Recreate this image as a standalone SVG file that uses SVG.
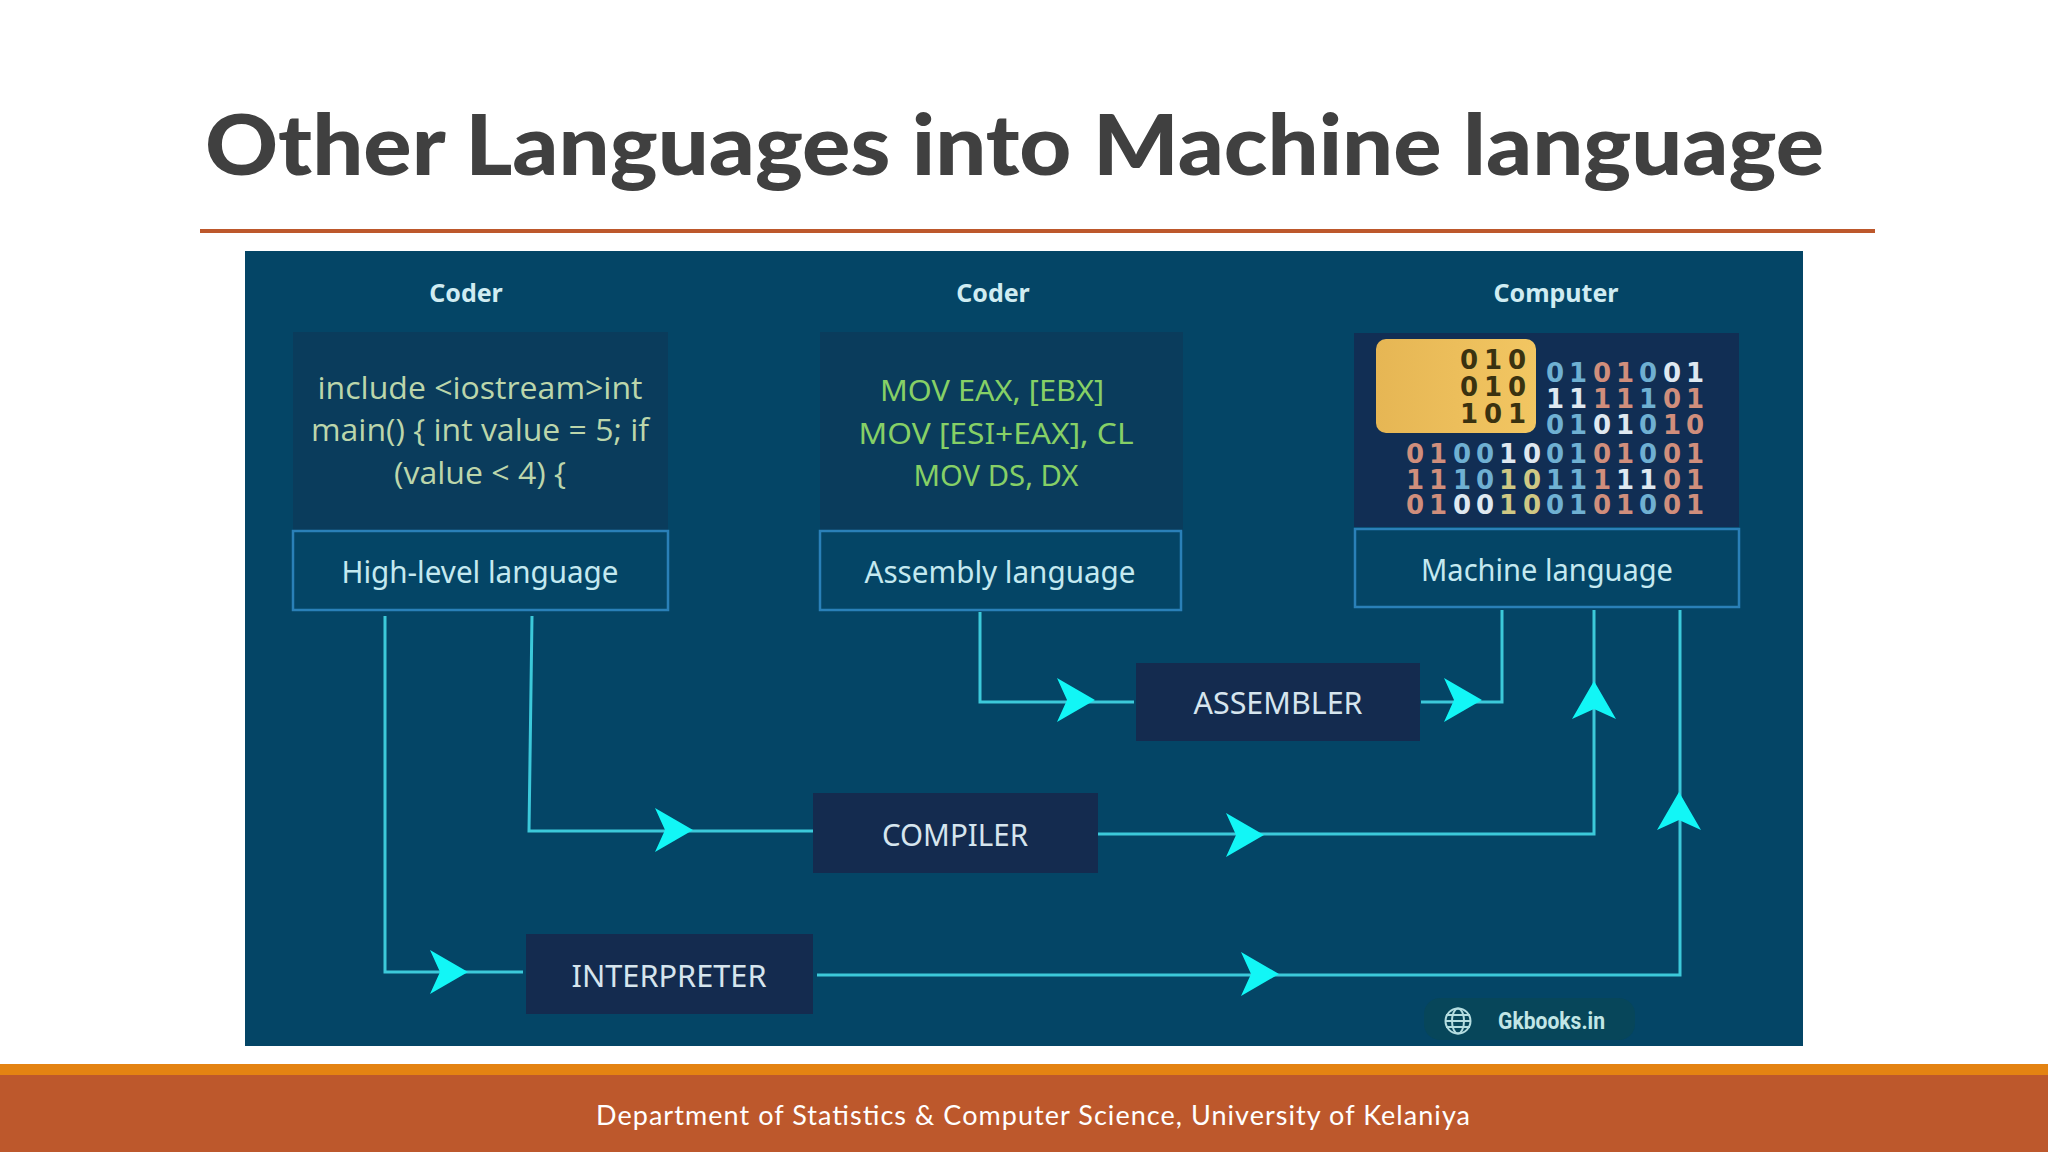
<svg xmlns="http://www.w3.org/2000/svg" width="2048" height="1152" viewBox="0 0 2048 1152">
<style>
.lbl{font-family:"Noto Sans","Liberation Sans",sans-serif;font-size:30px;fill:#c4e9f0;text-anchor:middle}
.hd{font-family:"Noto Sans","Liberation Sans",sans-serif;font-size:25px;font-weight:700;fill:#d0ecf2;text-anchor:middle}
.code{font-family:"Open Sans","Liberation Sans",sans-serif;font-size:31px;fill:#bcd6ab;text-anchor:middle}
.asm{font-family:"Noto Sans","Liberation Sans",sans-serif;font-size:29px;fill:#86d066;text-anchor:middle}
.tool{font-family:"Noto Sans","Liberation Sans",sans-serif;font-size:30px;fill:#d6e5ee;text-anchor:middle}
.box{fill:#044566;stroke:#2a80b8;stroke-width:2.5}
.tb{fill:#142b4f}
.pn{fill:#0a3c5c}
.ln{fill:none;stroke:#3cc9da;stroke-width:3}
.ah{fill:#12f6f6}
.bits{font-family:"DejaVu Sans","Liberation Sans",sans-serif;font-size:26px;font-weight:700;text-anchor:middle}
.b{fill:#6fb0d2}.s{fill:#d08e7c}.w{fill:#dfe8f0}.y{fill:#cfc884}.d{fill:#3a3210}
</style>
<defs>
<path id="ar" d="M0 0L-38 -22L-28 0L-38 22Z"/>
<linearGradient id="gold" x1="0" y1="0" x2="1" y2="0"><stop offset="0" stop-color="#e6b654"/><stop offset="1" stop-color="#f2c662"/></linearGradient>
</defs>
<rect width="2048" height="1152" fill="#fff"/>
<text x="205" y="175" font-family="Lato,'Liberation Sans',sans-serif" font-size="84" font-weight="900" fill="#404040" textLength="1619" lengthAdjust="spacingAndGlyphs">Other Languages into Machine language</text>
<rect x="200" y="229" width="1675" height="4" fill="#bd582c"/>
<rect x="245" y="251" width="1558" height="795" fill="#044566"/>
<rect y="1064" width="2048" height="11" fill="#e48312"/>
<rect y="1075" width="2048" height="77" fill="#bd582c"/>
<text x="1033" y="1125" font-family="Lato,'Liberation Sans',sans-serif" font-size="27" fill="#fff" text-anchor="middle" textLength="874" lengthAdjust="spacing">Department of Statistics &amp; Computer Science, University of Kelaniya</text>

<g id="connectors">
<path class="ln" d="M385 616V972H523"/>
<path class="ln" d="M532 616L529 831H813"/>
<path class="ln" d="M980 612V702H1134"/>
<path class="ln" d="M1421 702H1502V610"/>
<path class="ln" d="M1098 834H1594V610"/>
<path class="ln" d="M817 975H1680V610"/>
<use href="#ar" class="ah" transform="translate(468 972)"/>
<use href="#ar" class="ah" transform="translate(693 830)"/>
<use href="#ar" class="ah" transform="translate(1095 700)"/>
<use href="#ar" class="ah" transform="translate(1482 700)"/>
<use href="#ar" class="ah" transform="translate(1264 835)"/>
<use href="#ar" class="ah" transform="translate(1279 974)"/>
<use href="#ar" class="ah" transform="translate(1594 681) rotate(-90)"/>
<use href="#ar" class="ah" transform="translate(1679 792) rotate(-90)"/>
</g>

<g id="high-level">
<text class="hd" x="466" y="302">Coder</text>
<rect class="pn" x="293" y="332" width="375" height="199"/>
<text class="code" x="480" y="399" textLength="325" lengthAdjust="spacingAndGlyphs">include &lt;iostream&gt;int</text>
<text class="code" x="480" y="441" textLength="338" lengthAdjust="spacingAndGlyphs">main() { int value = 5; if</text>
<text class="code" x="480" y="484" textLength="172" lengthAdjust="spacingAndGlyphs">(value &lt; 4) {</text>
<rect class="box" x="293" y="531" width="375" height="79"/>
<text class="lbl" x="480" y="583" textLength="277" lengthAdjust="spacingAndGlyphs">High-level language</text>
</g>

<g id="assembly">
<text class="hd" x="993" y="302">Coder</text>
<rect class="pn" x="820" y="332" width="363" height="199"/>
<text class="asm" x="992" y="401" textLength="224" lengthAdjust="spacingAndGlyphs">MOV EAX, [EBX]</text>
<text class="asm" x="996" y="444" textLength="275" lengthAdjust="spacingAndGlyphs">MOV [ESI+EAX], CL</text>
<text class="asm" x="996" y="486" textLength="165" lengthAdjust="spacingAndGlyphs">MOV DS, DX</text>
<rect class="box" x="820" y="531" width="361" height="79"/>
<text class="lbl" x="1000" y="583" textLength="271" lengthAdjust="spacingAndGlyphs">Assembly language</text>
</g>

<g id="machine">
<text class="hd" x="1556" y="302">Computer</text>
<rect x="1354" y="333" width="385" height="194" fill="#112e54"/>
<rect x="1376" y="339" width="160" height="94" rx="10" fill="url(#gold)"/>
<text class="bits" x="1469 1493 1517" y="369"><tspan class="d">010</tspan></text>
<text class="bits" x="1469 1493 1517" y="396"><tspan class="d">010</tspan></text>
<text class="bits" x="1469 1493 1517" y="423"><tspan class="d">101</tspan></text>
<text class="bits" x="1555 1578 1602 1625 1648 1672 1695" y="382"><tspan class="b">01</tspan><tspan class="s">01</tspan><tspan class="b">0</tspan><tspan class="w">01</tspan></text>
<text class="bits" x="1555 1578 1602 1625 1648 1672 1695" y="408"><tspan class="w">11</tspan><tspan class="s">11</tspan><tspan class="b">1</tspan><tspan class="s">01</tspan></text>
<text class="bits" x="1555 1578 1602 1625 1648 1672 1695" y="434"><tspan class="b">01</tspan><tspan class="w">01</tspan><tspan class="b">0</tspan><tspan class="s">10</tspan></text>
<text class="bits" x="1415 1438 1462 1485 1508 1532 1555 1578 1602 1625 1648 1672 1695" y="463"><tspan class="s">01</tspan><tspan class="b">00</tspan><tspan class="w">10</tspan><tspan class="b">01</tspan><tspan class="s">01</tspan><tspan class="b">0</tspan><tspan class="s">01</tspan></text>
<text class="bits" x="1415 1438 1462 1485 1508 1532 1555 1578 1602 1625 1648 1672 1695" y="489"><tspan class="s">11</tspan><tspan class="b">10</tspan><tspan class="y">10</tspan><tspan class="b">11</tspan><tspan class="s">1</tspan><tspan class="w">11</tspan><tspan class="s">01</tspan></text>
<text class="bits" x="1415 1438 1462 1485 1508 1532 1555 1578 1602 1625 1648 1672 1695" y="514"><tspan class="s">01</tspan><tspan class="w">00</tspan><tspan class="y">10</tspan><tspan class="b">01</tspan><tspan class="s">01</tspan><tspan class="b">0</tspan><tspan class="s">01</tspan></text>
<rect class="box" x="1355" y="529" width="384" height="78"/>
<text class="lbl" x="1547" y="581" textLength="252" lengthAdjust="spacingAndGlyphs">Machine language</text>
</g>

<g id="assembler">
<rect class="tb" x="1136" y="663" width="284" height="78"/>
<text class="tool" x="1278" y="714" textLength="169" lengthAdjust="spacingAndGlyphs">ASSEMBLER</text>
</g>
<g id="compiler">
<rect class="tb" x="813" y="793" width="285" height="80"/>
<text class="tool" x="955" y="846" textLength="146" lengthAdjust="spacingAndGlyphs">COMPILER</text>
</g>
<g id="interpreter">
<rect class="tb" x="526" y="934" width="287" height="80"/>
<text class="tool" x="669" y="987" textLength="195" lengthAdjust="spacingAndGlyphs">INTERPRETER</text>
</g>

<g id="watermark">
<rect x="1424" y="998" width="211" height="42" rx="16" fill="#07465a"/>
<g fill="none" stroke="#b5dde0" stroke-width="2">
<circle cx="1458" cy="1021" r="12.500"/>
<ellipse cx="1458" cy="1021" rx="6" ry="12.500"/>
<path d="M1446 1015H1470M1446 1027H1470M1445.500 1021H1470.500"/>
</g>
<text x="1498" y="1029" font-family="Roboto,'Liberation Sans',sans-serif" font-size="23" font-weight="700" fill="#c2e6e6" textLength="107" lengthAdjust="spacingAndGlyphs">Gkbooks.in</text>
</g>
</svg>
